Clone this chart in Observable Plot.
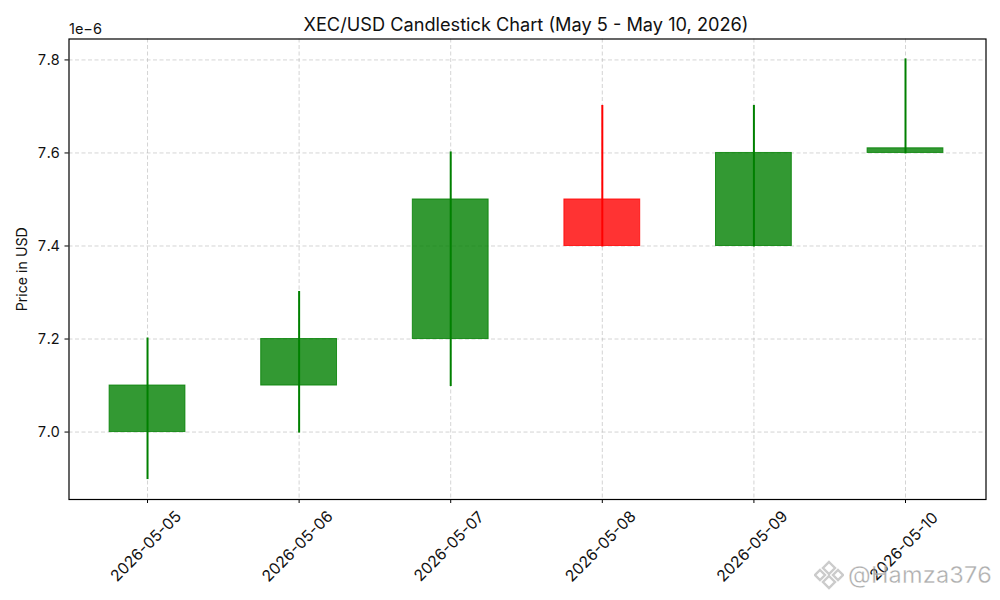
<!DOCTYPE html>
<html>
<head>
<meta charset="utf-8">
<style>
html,body{margin:0;padding:0;background:#fff}
#wrap{position:relative;width:1000px;height:600px;overflow:hidden}
#mark{position:absolute;left:814px;top:560px;display:flex;align-items:center;gap:4px;font:23.5px Inter,sans-serif;color:rgba(120,120,120,.6);letter-spacing:.2px;white-space:nowrap;line-height:30px;-webkit-text-stroke:.3px #fff}
</style>
<script src="https://cdn.jsdelivr.net/npm/d3@7"></script>
<script src="https://cdn.jsdelivr.net/npm/@observablehq/plot@0.6"></script>
</head>
<body>
<div id="wrap"></div>
<script>
const days = ["2026-05-05","2026-05-06","2026-05-07","2026-05-08","2026-05-09","2026-05-10"];
const open  = [7.0e-6, 7.1e-6, 7.2e-6, 7.5e-6, 7.4e-6, 7.6e-6];
const close = [7.1e-6, 7.2e-6, 7.5e-6, 7.4e-6, 7.6e-6, 7.61e-6];
const high  = [7.2e-6, 7.3e-6, 7.6e-6, 7.7e-6, 7.7e-6, 7.8e-6];
const low   = [6.9e-6, 7.0e-6, 7.1e-6, 7.4e-6, 7.4e-6, 7.6e-6];
const yTicks = [7.0e-6, 7.2e-6, 7.4e-6, 7.6e-6, 7.8e-6];
const yDomain = [6.855e-6, 7.845e-6];
const xDomain = [-0.518, 5.531];
const bodyHalf = 0.25;
const font = "Inter, sans-serif";
const GREEN = "#008000", RED = "#ff0000";

const rows = days.map((d,i)=>({i,day:d,open:open[i],close:close[i],high:high[i],low:low[i],
  color: close[i]>=open[i]?GREEN:RED}));

const chart = Plot.plot({
  width:1000, height:600,
  marginLeft:68.5, marginRight:14.5, marginTop:38.5, marginBottom:101,
  style:{fontFamily:font, background:"#fff", color:"#111"},
  x:{domain:xDomain, axis:null},
  y:{domain:yDomain, axis:null},
  marks:[
    Plot.gridX(days.map((d,i)=>i),{stroke:"#b0b0b0",strokeOpacity:.55,strokeDasharray:"4 2.5",strokeWidth:1}),
    Plot.gridY(yTicks,{stroke:"#b0b0b0",strokeOpacity:.55,strokeDasharray:"4 2.5",strokeWidth:1}),
    Plot.rectY(rows,{x1:d=>d.i-bodyHalf,x2:d=>d.i+bodyHalf,y1:"open",y2:"close",
      fill:"color",fillOpacity:.8,stroke:"color",strokeOpacity:.8,strokeWidth:1}),
    Plot.ruleX(rows,{x:"i",y1:"low",y2:"high",stroke:"color",strokeWidth:2,strokeLinecap:"square"}),
    Plot.frame({stroke:"#000",strokeWidth:1.2}),
    Plot.axisY(yTicks,{anchor:"left",tickSize:4,tickPadding:5,fontSize:14.5,
      tickFormat:d=>(d*1e6).toFixed(1),label:null,stroke:"#000"}),
    Plot.axisX(rows.map(d=>d.i),{anchor:"bottom",tickSize:4,label:null,text:null,stroke:"#000"}),
    Plot.text(rows,{x:"i",text:"day",frameAnchor:"bottom",dx:-1.5,dy:47,rotate:-45,textAnchor:"middle",lineAnchor:"middle",fontSize:15.7,fill:"#111"}),
    Plot.text(["XEC/USD Candlestick Chart (May 5 - May 10, 2026)"],{frameAnchor:"top",dx:-1.5,dy:-21,fontSize:18.2,fill:"#111"}),
    Plot.text(["1e\u22126"],{frameAnchor:"top-left",dy:-15,fontSize:14.5,textAnchor:"start",fill:"#111"}),
    Plot.text(["Price in USD"],{frameAnchor:"left",dx:-47,rotate:-90,textAnchor:"middle",fontSize:14.2,fill:"#111"})
  ]
});
const wrap=document.getElementById("wrap");
wrap.appendChild(chart);
const m=document.createElement("div");
m.id="mark";
m.innerHTML='<svg width="30" height="30" viewBox="0 0 30 30"><g fill="none" stroke="rgba(190,190,190,.8)" stroke-width="2.4"><path d="M15 2l6 6-6 6-6-6z"/><path d="M6 10l5 5-5 5-5-5z"/><path d="M24 10l5 5-5 5-5-5z"/><path d="M15 16l6 6-6 6-6-6z"/></g></svg><span>@Hamza376</span>';
wrap.appendChild(m);
</script>
</body>
</html>
